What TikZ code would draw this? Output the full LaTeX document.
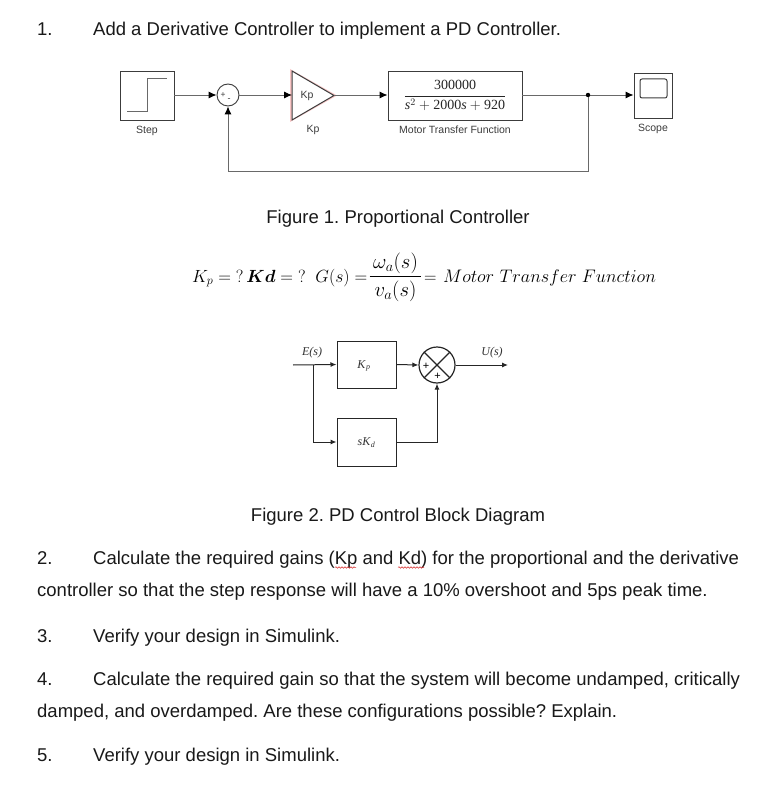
\documentclass[tikz,border=0pt]{standalone}
\usepackage{amsmath,amssymb}
\usepackage{fontspec}
\setmainfont{Liberation Sans}
\newfontfamily\timesfont{Liberation Serif}
\usepackage{tikz}
\usetikzlibrary{arrows.meta,calc,decorations.pathmorphing,shapes.geometric}
\definecolor{simline}{RGB}{105,105,105}
\definecolor{simedge}{RGB}{60,60,60}
\definecolor{simglow}{RGB}{235,90,90}
\definecolor{bodyink}{RGB}{25,25,25}
\definecolor{squiggle}{RGB}{215,40,40}
\tikzset{
  bodytext/.style={anchor=base west,inner sep=0pt,text=bodyink,font=\fontsize{18.5}{20}\selectfont},
  captext/.style={anchor=base,inner sep=0pt,text=bodyink,font=\fontsize{18.5}{20}\selectfont},
  eqntext/.style={inner sep=0pt,text=black,font=\fontsize{18.3}{22}\selectfont},
  simlabel/.style={anchor=base,inner sep=0pt,text=simedge,font=\fontsize{10.5}{12}\selectfont},
  simblock/.style={draw=simedge,line width=0.9pt,fill=white,inner sep=0pt},
  simwire/.style={draw=simline,line width=0.9pt},
  simarrow/.style={simwire,-{Latex[length=8pt,width=7pt,black]}},
  pdblock/.style={draw=black!85,line width=1pt,inner sep=0pt,minimum width=59pt},
  pdwire/.style={draw=black!85,line width=1pt},
  pdarrow/.style={pdwire,-{Latex[length=6pt,width=5pt]}},
  pdlabel/.style={inner sep=0pt,text=black!80,font=\timesfont\fontsize{12}{13}\selectfont},
  spellmark/.style={draw=squiggle,line width=0.5pt,decorate,decoration={snake,amplitude=0.8pt,segment length=3pt}},
}
\newcommand{\simbox}[6]{%
  \node[simblock,minimum width=#3pt,minimum height=#4pt] (#1) at (#2) {#5};
  \node[simlabel] (#1lab) at ($(#1.south)+(0,#6)$) {\MakeLabel{#1}};}
\newcommand{\MakeLabel}[1]{\csname lab#1\endcsname}
\newcommand{\labstep}{Step}
\newcommand{\labmotor}{Motor Transfer Function}
\newcommand{\labscope}{Scope}
\begin{document}
\frenchspacing
\begin{tikzpicture}[x=1pt,y=-1pt]
  \useasboundingbox (0,0) rectangle (783,799);
  \fill[white] (0,0) rectangle (783,799);
  % headline
  \node[bodytext] (numa) at (37,36) {1.};
  \node[bodytext] (linea) at (93,36) {Add a Derivative Controller to implement a PD Controller.};
  % simulink model
  \simbox{step}{147,95.5}{54}{49}{}{13}
  \draw[simline,line width=1pt] (127,112) -- (147,112) -- (147,79) -- (167,79);
  \node[circle,draw=simedge,line width=0.9pt,minimum size=22pt,inner sep=0pt] (sum) at (228,95) {};
  \node[inner sep=0pt,font=\fontsize{8.5}{9}\selectfont,text=simedge] (sumplus) at (223,95) {+};
  \node[inner sep=0pt,font=\fontsize{9}{9}\selectfont,text=simedge] (summinus) at (229,100) {-};
  \fill[simglow,opacity=0.35] (290,69) -- (337,95.5) -- (290,122) -- cycle;
  \coordinate (gaina) at (292,71);
  \coordinate (gainb) at (334,95.5);
  \coordinate (gainc) at (292,120);
  \draw[simedge,fill=white,line width=1pt] (gaina) -- (gainb) -- (gainc) -- cycle;
  \node[inner sep=0pt,text=simedge,font=\fontsize{10.5}{12}\selectfont] (gain) at (307,95.5) {Kp};
  \node[simlabel] (gainlab) at (313,133) {Kp};
  \simbox{motor}{455,95.5}{134}{49}{\timesfont\fontsize{14}{16}\selectfont\color{black!85}$\dfrac{\text{300000}}{\textit{s}^2+\text{2000}\textit{s}+\text{920}}$}{13}
  \simbox{scope}{653,95.5}{38}{45}{}{13}
  \draw[simedge,line width=1pt,rounded corners=2pt] (640,79) rectangle (667,98);
  \coordinate (branch) at (588,95);
  \coordinate (fbright) at (588,171);
  \coordinate (fbleft) at (228,171);
  \draw[simarrow] (step.east |- sum) -- (sum.west);
  \draw[simarrow] (sum.east) -- (gaina |- sum);
  \draw[simarrow] (gainb |- sum) -- (motor.west |- sum);
  \draw[simarrow] (motor.east |- sum) -- (scope.west |- sum);
  \draw[simarrow] (branch) -- (fbright) -- (fbleft) -- (sum.south);
  \fill[black] (branch) circle (2.2pt);
  \node[captext] (figa) at (398,224) {Figure 1. Proportional Controller};
  % gains equation
  \node[eqntext,anchor=base west,scale=1.02] (eqnleft) at (192,282)
    {$K_p={}?\,\boldsymbol{Kd}={}?\;\;G(s)={}$};
  \node[eqntext,font=\fontsize{20.5}{24}\selectfont] (eqnfrac) at (395.5,277)
    {$\dfrac{\,\omega_a(s)\,}{\,v_a(s)\,}$};
  \node[eqntext,anchor=base west] (eqnequal) at (424,282) {$=$};
  \node[eqntext,anchor=base west,scale=1.05] (eqnright) at (443,282)
    {$\mathnormal{Motor\ Transfer\ Function}$};
  % pd block diagram
  \node[pdblock,minimum height=47pt] (kp) at (366.5,364.5) {};
  \node[pdlabel] (kptext) at (364,366) {\textit{K}$_{\textit{p}}$};
  \node[pdblock,minimum height=48pt] (kd) at (366.5,442) {};
  \node[pdlabel] (kdtext) at (366.5,443) {\textit{sK}$_{\textit{d}}$};
  \node[circle,draw=black!85,line width=1.2pt,minimum size=36pt,inner sep=0pt] (mix) at (437,365) {};
  \draw[black!85,line width=1.2pt] (mix.north west) -- (mix.south east) (mix.north east) -- (mix.south west);
  \node[inner sep=0pt,font=\fontsize{11}{11}\selectfont] (mixa) at (426,366) {+};
  \node[inner sep=0pt,font=\fontsize{11}{11}\selectfont] (mixb) at (437.5,376) {+};
  \node[pdlabel] (etext) at (312,353) {\textit{E(s)}};
  \node[pdlabel] (utext) at (492,353) {\textit{U(s)}};
  \coordinate (ein) at (293,365);
  \coordinate (uout) at (508,365);
  \coordinate (tap) at (313,365);
  \coordinate (tapdown) at (313,442);
  \coordinate (kdright) at (437,442);
  \draw[pdarrow] (ein) -- (kp.west);
  \draw[pdarrow] (kp.east) -- (mix.west);
  \draw[pdarrow] (mix.east) -- (uout);
  \draw[pdarrow] (tap) -- (tapdown) -- (kd.west);
  \draw[pdarrow] (kd.east) -- (kdright) -- (mix.south);
  \node[captext] (figb) at (398,521) {Figure 2. PD Control Block Diagram};
  % remaining questions
  \node[bodytext] (numb) at (37,564) {2.};
  \node[bodytext] (lineb) at (93,564) {Calculate the required gains (Kp and Kd) for the proportional and the derivative};
  \node[bodytext] (linec) at (37,596) {controller so that the step response will have a 10\% overshoot and 5ps peak time.};
  \draw[spellmark] (335,567.5) -- (356,567.5);
  \draw[spellmark] (398,567.5) -- (424,567.5);
  \node[bodytext] (numc) at (37,642) {3.};
  \node[bodytext] (lined) at (93,642) {Verify your design in Simulink.};
  \node[bodytext] (numd) at (37,685) {4.};
  \node[bodytext] (linee) at (93,685) {Calculate the required gain so that the system will become undamped, critically};
  \node[bodytext] (linef) at (37,717) {damped, and overdamped. Are these configurations possible? Explain.};
  \node[bodytext] (nume) at (37,761) {5.};
  \node[bodytext] (lineg) at (93,761) {Verify your design in Simulink.};
\end{tikzpicture}
\end{document}
